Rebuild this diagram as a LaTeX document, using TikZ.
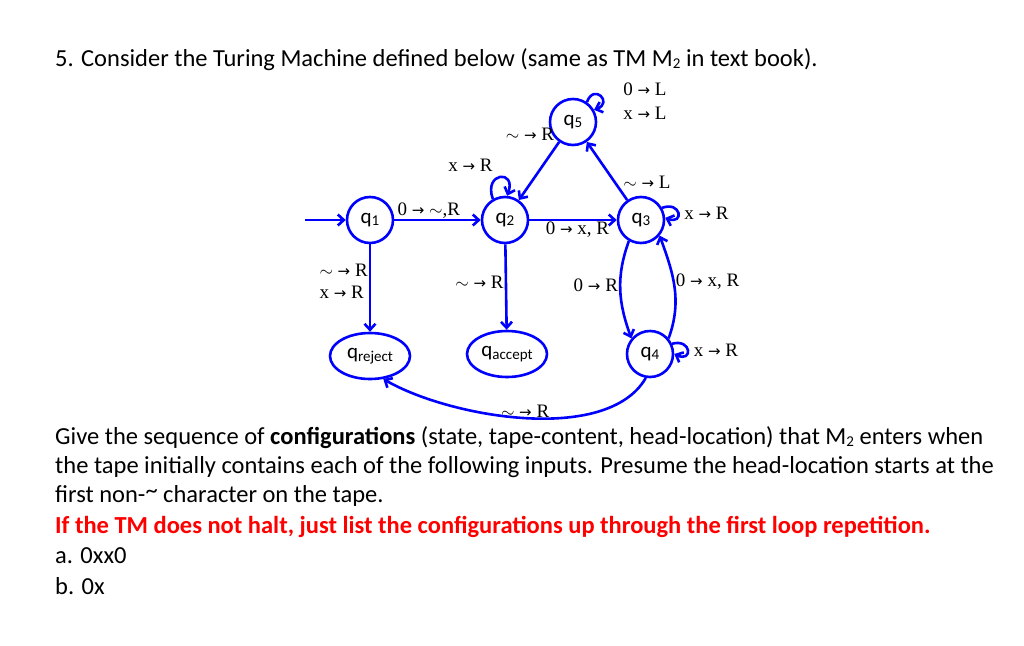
\documentclass[tikz,border=0pt]{standalone}
\usepackage{fontspec}
\setmainfont{Carlito}
\newfontfamily\lab{Liberation Serif}
\newfontfamily\djfont{DejaVu Sans}
\usetikzlibrary{arrows.meta,shapes.geometric}
\newcommand{\sub}[1]{\raisebox{-0.25ex}{\fontsize{15}{15}\selectfont #1}}
\newcommand{\ar}{{\djfont\fontsize{15}{15}\selectfont →}}
\begin{document}
\begin{tikzpicture}[x=1pt,y=-1pt,
 st/.style={circle,draw=blue,line width=2.6pt,minimum size=46pt,inner sep=0pt,font=\fontsize{21}{21}\selectfont},
 fin/.style={ellipse,draw=blue,line width=2.6pt,minimum width=80pt,minimum height=46pt,inner sep=0pt,font=\fontsize{21}{21}\selectfont},
 tr/.style={-{Straight Barb[length=6pt,width=11pt]},draw=blue,line width=2.6pt},
 lb/.style={font=\lab\fontsize{19}{26}\selectfont,inner sep=1pt,align=left},
 tx/.style={anchor=base west,inner sep=0pt,font=\fontsize{24.5}{24.5}\selectfont}]
\useasboundingbox (0,0) rectangle (1024,645);
\node[tx] (t0) at (55,66) {5. Consider the Turing Machine defined below (same as TM M\sub{2} in text book).};
\node[st] (q1) at (370,220) {q\sub{1}};
\node[st] (q2) at (505,220) {q\sub{2}};
\node[st] (q3) at (641,220) {q\sub{3}};
\node[st] (q5) at (573,122) {q\sub{5}};
\node[st] (q4) at (650,354) {q\sub{4}};
\node[fin] (qr) at (370,356) {q\sub{reject}};
\node[fin] (qa) at (507,354) {q\sub{accept}};
\coordinate (s) at (305,220);
\draw[tr] (s) -- (q1);
\draw[tr] (q1) -- node[lb,above,pos=0.4,yshift=-1pt]{0 \ar\ $\sim$,R} (q2);
\draw[tr] (q2) -- node[lb,below,pos=0.55]{0 \ar\ x, R} (q3);
\draw[tr] (q1) -- node[lb,left,pos=0.42]{$\sim$ \ar\ R\\[-4pt]x \ar\ R} (qr);
\draw[tr] (q2) -- node[lb,left,pos=0.45]{$\sim$ \ar\ R} (qa);
\draw[tr] (q5) -- node[lb,above left,pos=0.02,xshift=-2pt]{$\sim$ \ar\ R} (q2);
\draw[tr] (q3) -- node[lb,right,pos=0.3,xshift=6pt]{$\sim$ \ar\ L} (q5);
\draw[tr] (q3.240) to[out=250,in=110] node[lb,left,pos=0.45]{0 \ar\ R} (q4.140);
\draw[tr] (q4.40) to[out=70,in=290] node[lb,right,pos=0.55]{0 \ar\ x, R} (q3.320);
\draw[tr] (q4.260) to[out=240,in=330,looseness=0.75] node[lb,above,pos=0.5,yshift=-2pt]{$\sim$ \ar\ R} (qr.300);
\draw[tr] (q5.55) to[out=70,in=20,looseness=5] (q5.30);
\node[lb] (l5) at (645,101) {0 \ar\ L\\[-2pt]x \ar\ L};
\draw[tr] (q2.120) to[out=110,in=70,looseness=5] node[lb,above left,pos=0.35,yshift=6pt]{x \ar\ R} (q2.85);
\draw[tr] (q3.30) to[out=20,in=-20,looseness=5] node[lb,right,pos=0.5,xshift=4pt]{x \ar\ R} (q3.5);
\draw[tr] (q4.25) to[out=15,in=-25,looseness=5] node[lb,right,pos=0.5,xshift=4pt]{x \ar\ R} (q4.0);
\node[tx] (t1) at (55,444) {Give the sequence of \textbf{configurations} (state, tape-content, head-location) that M\sub{2} enters when};
\node[tx] (t2) at (55,473) {the tape initially contains each of the following inputs. Presume the head-location starts at the};
\node[tx] (t3) at (55,502) {first non-\raisebox{0.3ex}{\char"7E} character on the tape.};
\node[tx,text=red,font=\bfseries\fontsize{24.5}{24.5}\selectfont] (t4) at (55,533) {If the TM does not halt, just list the configurations up through the first loop repetition.};
\node[tx] (t5) at (55,563) {a. 0xx0};
\node[tx] (t6) at (55,594) {b. 0x};
\end{tikzpicture}
\end{document}
